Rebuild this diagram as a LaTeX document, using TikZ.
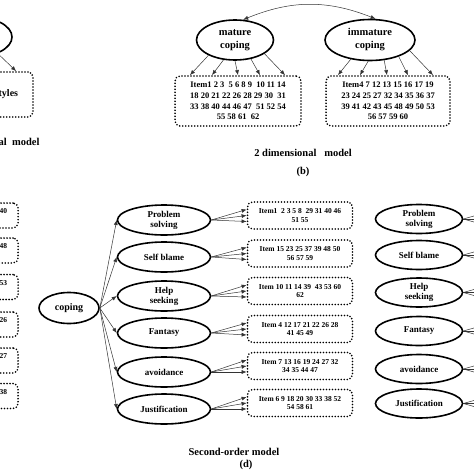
\documentclass[tikz,border=0pt]{standalone}
\usepackage{fontspec}
\setmainfont{Liberation Serif}
\usetikzlibrary{arrows.meta,positioning,shapes.geometric}

\begin{document}
\begin{tikzpicture}[x=1pt,y=-1pt,
    lat/.style={draw,ellipse,line width=1.6pt,inner sep=0pt,align=center,font=\bfseries\fontsize{9}{10}\selectfont},
    itembox/.style={draw,line width=1.8pt,dash pattern=on 0pt off 3pt,line cap=round,rounded corners=5pt,align=center,inner sep=0pt,font=\bfseries\fontsize{7.5}{8.7}\selectfont},
    arr/.style={-{Latex[length=5pt,width=4pt]},line width=0.5pt,black!80},
    ttl/.style={font=\bfseries\fontsize{10.5}{12}\selectfont}]
  \useasboundingbox (0,0) rectangle (474,474);
  \clip (0,0) rectangle (474,474);

  % (a)
  \node[lat,minimum width=74pt,minimum height=40pt] (uni) at (-25,37) {};
  \node[itembox,minimum width=84pt,minimum height=45pt,font=\bfseries\fontsize{10}{12}\selectfont] (sty) at (-9,94.5) {coping styles};
  \draw[arr] (uni.-36) -- (sty.43);
  \node[ttl,anchor=east] (ta) at (43,142) {1 dimensional\ \ model};

  % (b)
  \node[lat,minimum width=77pt,minimum height=40pt,font=\bfseries\fontsize{10.5}{13}\selectfont] (mat) at (235,40) {mature\\coping};
  \node[lat,minimum width=90pt,minimum height=41pt,font=\bfseries\fontsize{10.5}{13}\selectfont] (imm) at (370,40) {immature\\coping};
  \node[itembox,minimum width=126pt,minimum height=50pt,font=\bfseries\fontsize{8.5}{10.6}\selectfont] (bm) at (238,101)
    {Item1 2 3\ \ 5 6 8 9\ \ 10 11 14\\18 20 21 22 26 28 29 30\ \ 31\\33 38 40 44 46 47\ \ 51 52 54\\55 58 61\ \ 62};
  \node[itembox,minimum width=124pt,minimum height=50pt,font=\bfseries\fontsize{8.5}{10.6}\selectfont] (bi) at (388,101)
    {Item4 7 12 13 15 16 17 19\\23 24 25 27 32 34 35 36 37\\39 41 42 43 45 48 49 50 53\\56 57 59 60};
  \draw[arr,{Latex[length=5pt,width=4pt]}-{Latex[length=5pt,width=4pt]}] (mat.68) to[bend left=22] (imm.75);
  \foreach \a/\s in {-150/-48,-120/-26,-90/0,-50/22,-25/47}
    \draw[arr] (mat.\a) -- ([xshift=\s pt]bm.north);
  \foreach \a/\s in {-135/-50,-95/-28,-55/-1,-30/20,-15/45}
    \draw[arr] (imm.\a) -- ([xshift=\s pt]bi.north);
  \node[ttl] (tb) at (303,153) {2 dimensional\ \ \ model};
  \node[ttl] (lb) at (303,172) {(b)};

  % (c)
  \foreach \y/\t [count=\i] in {215.5/{Item1 2 3 5 8 29 31 40\\46 51 55},250.5/{Item 15 23 25 37 39 48\\50 56 57 59},
      287/{Item 10 11 14 39 43 53\\60 62},324.5/{Item 4 12 17 21 22 26\\28 41 45 49},
      360.5/{Item 7 13 16 19 24 27\\32 34 35 44 47},396/{Item 6 9 18 20 30 33 38\\52 54 58 61}}
    \node[itembox,anchor=east,minimum height=25pt,inner xsep=11pt] (c\i) at (19,\y) {\t};

  % (d)
  \node[lat,minimum width=60pt,minimum height=31pt,font=\bfseries\fontsize{10}{12}\selectfont] (cop) at (69,308) {coping};
  \foreach \y/\t [count=\i] in {220/{Problem\\solving},257/Self blame,296/{Help\\seeking},333/Fantasy,372/avoidance,409/Justification}
  {
    \node[lat,minimum width=93pt,minimum height=30pt] (f\i) at (164,\y) {\t};
    \draw[arr] (cop.east) -- (f\i.west);
  }
  \foreach \y/\t [count=\i] in {215.5/{Item1\ \ 2 3 5 8\ \ 29 31 40 46\\51 55},253.5/{Item 15 23 25 37 39 48 50\\56 57 59},
      291/{Item 10 11 14 39\ \ 43 53 60\\62},329/{Item 4 12 17 21 22 26 28\\41 45 49},
      366/{Item 7 13 16 19 24 27 32\\34 35 44 47},403/{Item 6 9 18 20 30 33 38 52\\54 58 61}}
  {
    \node[itembox,minimum width=105pt,minimum height=27pt] (d\i) at (300,\y) {\t};
    \foreach \s in {6,0,-6}
      \draw[arr] (f\i.east) -- ([yshift=\s pt]d\i.west);
  }
  \node[ttl] (td) at (234,452) {Second-order model};
  \node[ttl] (ld) at (246,465) {(d)};

  % (e)
  \foreach \y/\t [count=\i] in {219/{Problem\\solving},255/Self blame,292.5/{Help\\seeking},331/Fantasy,369/avoidance,403.5/Justification}
  {
    \node[lat,minimum width=87pt,minimum height=29pt] (g\i) at (419,\y) {\t};
    \coordinate (h\i) at (520,\y);
    \foreach \s in {16,0,-16}
      \draw[arr] (g\i.east) -- ([yshift=\s pt]h\i);
  }
\end{tikzpicture}
\end{document}
